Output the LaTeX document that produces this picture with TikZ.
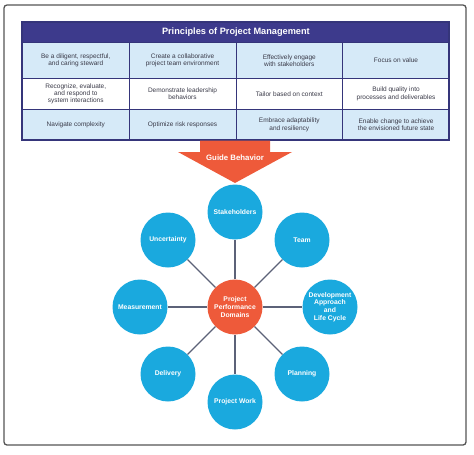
\documentclass[tikz,border=0pt]{standalone}
\usepackage{fontspec}
\setmainfont{Liberation Sans}
\definecolor{titlebar}{HTML}{3D3A8C}
\definecolor{cellblue}{HTML}{D6EAF8}
\definecolor{gridline}{HTML}{35357A}
\definecolor{celltext}{HTML}{3A3A48}
\definecolor{domblue}{HTML}{1AA9DE}
\definecolor{domorange}{HTML}{EE5A3A}
\definecolor{spoke}{HTML}{5C6278}
\definecolor{framegray}{HTML}{555555}
\begin{document}
\begin{tikzpicture}[x=1pt,y=-1pt,
  cell/.style={draw=gridline,line width=0.8pt,minimum width=106.75pt,inner sep=1pt,
    align=center,font=\fontsize{6.5}{7.4}\selectfont,text=celltext,anchor=north west},
  bluecell/.style={cell,fill=cellblue,minimum height=#1},
  whitecell/.style={cell,fill=white,minimum height=#1},
  dom/.style={circle,fill=domblue,minimum size=55pt,inner sep=0pt,text=white,align=center,
    font=\fontsize{6.8}{7.8}\selectfont\bfseries},
  hub/.style={dom,fill=domorange},
  spokeline/.style={draw=spoke,line width=1.3pt}]
\useasboundingbox (0,0) rectangle (474,455);
% outer frame
\draw[framegray,line width=1.3pt,rounded corners=3pt] (4,5) rectangle (466,445);
% title
\node[draw=gridline,line width=0.8pt,fill=titlebar,minimum width=427pt,minimum height=20pt,anchor=north west,
  text=white,font=\fontsize{9.2}{10}\selectfont\bfseries] (title) at (22,22) {Principles of Project Management};
% row 1
\node[bluecell=36pt] (r1c1) at (22,42) {Be a diligent, respectful,\\and caring steward};
\node[bluecell=36pt] (r1c2) at (128.75,42) {Create a collaborative\\project team environment};
\node[bluecell=36pt] (r1c3) at (235.5,42) {Effectively engage\\with stakeholders};
\node[bluecell=36pt] (r1c4) at (342.25,42) {Focus on value};
% row 2
\node[whitecell=31pt] (r2c1) at (22,78) {Recognize, evaluate,\\and respond to\\system interactions};
\node[whitecell=31pt] (r2c2) at (128.75,78) {Demonstrate leadership\\behaviors};
\node[whitecell=31pt] (r2c3) at (235.5,78) {Tailor based on context};
\node[whitecell=31pt] (r2c4) at (342.25,78) {Build quality into\\processes and deliverables};
% row 3
\node[bluecell=31pt] (r3c1) at (22,109) {Navigate complexity};
\node[bluecell=31pt] (r3c2) at (128.75,109) {Optimize risk responses};
\node[bluecell=31pt] (r3c3) at (235.5,109) {Embrace adaptability\\and resiliency};
\node[bluecell=31pt] (r3c4) at (342.25,109) {Enable change to achieve\\the envisioned future state};
\draw[gridline,line width=1.3pt] (22,22) rectangle (449,140);
% arrow
\fill[domorange] (200,140.6) -- (270,140.6) -- (270,152) -- (292,152) -- (235,183) -- (178,152) -- (200,152) -- cycle;
\node[text=white,font=\fontsize{7.8}{8}\selectfont\bfseries] (guide) at (235,158) {Guide Behavior};
% domains
\node[hub] (hub) at (235,307) {Project\\Performance\\Domains};
\node[dom] (stake) at (235,212) {Stakeholders};
\node[dom] (team) at (302,240) {Team};
\node[dom] (dev) at (330,307) {Development\\Approach\\and\\Life Cycle};
\node[dom] (plan) at (302,374) {Planning};
\node[dom] (work) at (235,402) {Project Work};
\node[dom] (deliv) at (168,374) {Delivery};
\node[dom] (meas) at (140,307) {Measurement};
\node[dom] (unc) at (168,240) {Uncertainty};
\foreach \d in {stake,team,dev,plan,work,deliv,meas,unc}
  \path[spokeline] (hub) -- (\d);
\end{tikzpicture}
\end{document}
